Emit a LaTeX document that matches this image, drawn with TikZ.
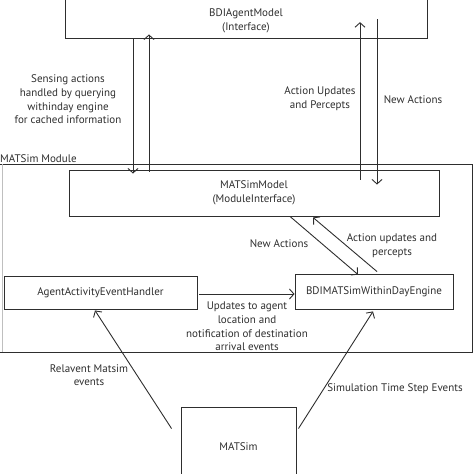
\documentclass[tikz,border=0pt]{standalone}
\usepackage{fontspec}
\setmainfont{PT Sans}
\usetikzlibrary{arrows.meta,calc}
\definecolor{ink}{HTML}{2E2E2E}
\begin{document}
\begin{tikzpicture}[x=1pt,y=-1pt,
  every node/.style={font=\fontsize{11}{13.6}\selectfont, text=ink, inner sep=0pt, align=center},
  box/.style={draw=ink, line width=0.9pt, rectangle},
  arr/.style={draw=ink, line width=0.9pt, -{Straight Barb[length=4.5pt,width=10pt,line width=0.9pt]}},
  ln/.style={draw=ink, line width=0.9pt}]
\useasboundingbox (0,0) rectangle (474,474);
% module frame
\draw[ln] (0,164) -- (472,164) -- (472,352) -- (0,352);
\draw[draw=black!25, line width=1.2pt] (2.5,164) -- (2.5,352);
\node[anchor=west] (modlab) at (0,158.5) {MATSim Module};
% boxes
\node[box, minimum width=362pt, minimum height=42pt] (bdi) at (246,17.7) {};
\node at (246,20.5) {BDIAgentModel\\(Interface)};
\node[box, minimum width=370pt, minimum height=46pt] (model) at (254,193) {MATSimModel\\(ModuleInterface)};
\node[box, minimum width=193pt, minimum height=33pt] (aaeh) at (100.5,292.5) {AgentActivityEventHandler};
\node[box, minimum width=158pt, minimum height=35pt] (eng) at (374,291.5) {BDIMATSimWithinDayEngine};
\node[box, minimum width=115pt, minimum height=80pt] (ms) at (238.5,447) {};
\node at (238.5,447) {MATSim};
% vertical arrows
\draw[arr, shorten >=-4pt] ([xshift=-113pt]bdi.south) -- ([xshift=-121pt]model.north);
\draw[arr, shorten <=-2pt, shorten >=-4.7pt] ([xshift=-105pt]model.north) -- ([xshift=-97pt]bdi.south);
\draw[arr, shorten <=-10pt, shorten >=-17pt] ([xshift=106pt]model.north) -- ([xshift=114pt]bdi.south);
\draw[arr, shorten <=-20pt, shorten >=-15pt] ([xshift=131pt]bdi.south) -- ([xshift=123pt]model.north);
% diagonal arrows
\draw[arr] ([xshift=36pt]model.south) -- ([xshift=-16pt,yshift=-1pt]eng.north);
\draw[arr] ([xshift=3pt,yshift=2pt]eng.north) -- ([xshift=59pt,yshift=-1pt]model.south);
\draw[arr] ([xshift=2pt,yshift=-1.5pt]aaeh.east) -- ([yshift=-1.5pt]aaeh.east -| eng.west);
\draw[arr] ([xshift=-9pt,yshift=-22pt]ms.north west) -- ([xshift=-5.5pt,yshift=-1pt]aaeh.south);
\draw[arr] ([xshift=2pt,yshift=-22pt]ms.north east) -- ([xshift=-1pt,yshift=-2pt]eng.south);
% labels
\node (l1) at (68,99.5) {Sensing actions\\handled by querying\\withinday engine\\for cached information};
\node (l2) at (320,98.5) {Action Updates\\and Percepts};
\node (l3) at (413,100) {New Actions};
\node (l4) at (279,244) {New Actions};
\node (l5) at (392,245.5) {Action updates and\\percepts};
\node (l6) at (247,326.5) {Updates to agent\\location and\\notification of destination\\arrival events};
\node (l7) at (89,375) {Relavent Matsim\\events};
\node (l8) at (395,389) {Simulation Time Step Events};
\end{tikzpicture}
\end{document}
